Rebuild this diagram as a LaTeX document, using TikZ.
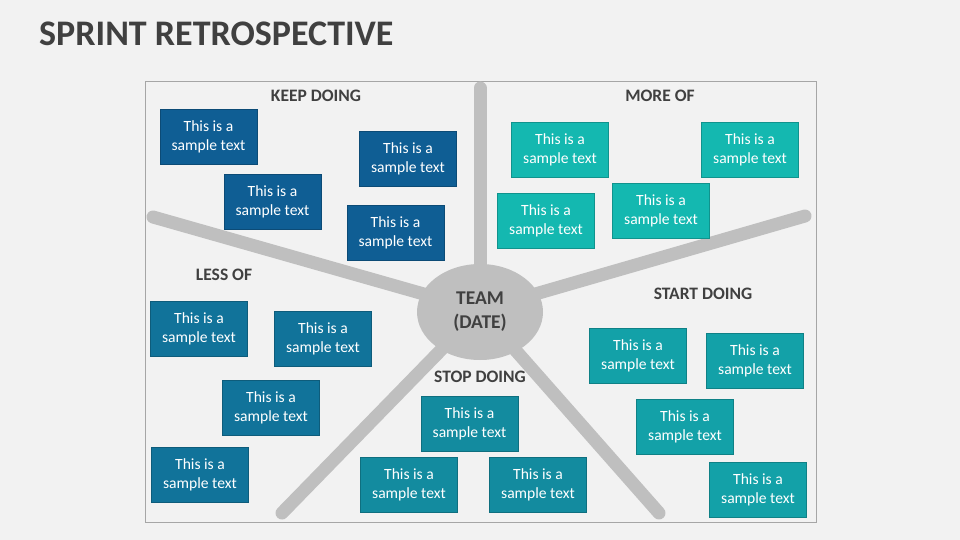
\documentclass[tikz,border=0pt]{standalone}
\usepackage{fontspec}
\setmainfont{Carlito}
\usetikzlibrary{shapes.geometric}
\begin{document}
\begin{tikzpicture}[x=1pt,y=-1pt,
  box/.style={draw=#1!80!black, line width=0.8pt, fill=#1, text=white, minimum width=97pt, minimum height=55pt, inner sep=0pt, align=center, font=\fontsize{15.6}{19}\selectfont},
  head/.style={text=txtgray, font=\bfseries\fontsize{17.5}{20}\selectfont},
  spoke/.style={draw=spokegray, line width=13pt, line cap=round}]
\definecolor{bg}{HTML}{F2F2F2}
\definecolor{txtgray}{HTML}{404040}
\definecolor{spokegray}{HTML}{BFBFBF}
\definecolor{framegray}{HTML}{A6A6A6}
\definecolor{ckeep}{HTML}{0F5E94}
\definecolor{cless}{HTML}{11739A}
\definecolor{cstop}{HTML}{138B9F}
\definecolor{cstart}{HTML}{13A1A8}
\definecolor{cmore}{HTML}{14B8B0}
\fill[bg] (0,0) rectangle (960,540);
\useasboundingbox (0,0) rectangle (960,540);
\node[anchor=west, inner sep=0pt, text=txtgray, font=\bfseries\fontsize{36}{40}\selectfont] (title) at (39,34) {SPRINT RETROSPECTIVE};
\draw[framegray, line width=0.8pt] (145,81) rectangle (816,522);
% spokes
\coordinate (c) at (480,310);
\coordinate (sTop) at (480,88);
\coordinate (sUL) at (153,217);
\coordinate (sUR) at (805,216);
\coordinate (sLL) at (282,513);
\coordinate (sLR) at (659,513);
\draw[spoke] (c) -- (sTop);
\draw[spoke] (c) -- (sUL);
\draw[spoke] (c) -- (sUR);
\draw[spoke] (c) -- (sLL);
\draw[spoke] (c) -- (sLR);
\node[ellipse, fill=spokegray, minimum width=126pt, minimum height=96pt, inner sep=0pt, align=center, text=txtgray, font=\bfseries\fontsize{19.5}{24}\selectfont] (team) at (480,312) {TEAM\\(DATE)};
% headings
\node[head] (hkeep) at (316,96) {KEEP DOING};
\node[head] (hmore) at (660,96) {MORE OF};
\node[head] (hless) at (224,275) {LESS OF};
\node[head] (hstart) at (703,294) {START DOING};
\node[head] (hstop) at (480,377) {STOP DOING};
% keep doing
\node[box=ckeep] (k1) at (208.5,136.5) {This is a\\sample text};
\node[box=ckeep] (k2) at (272.5,201.5) {This is a\\sample text};
\node[box=ckeep] (k3) at (408,159) {This is a\\sample text};
\node[box=ckeep] (k4) at (395.5,233) {This is a\\sample text};
% more of
\node[box=cmore] (m1) at (560,149.5) {This is a\\sample text};
\node[box=cmore] (m2) at (750,149.5) {This is a\\sample text};
\node[box=cmore] (m3) at (546,221) {This is a\\sample text};
\node[box=cmore] (m4) at (661,210.5) {This is a\\sample text};
% less of
\node[box=cless] (l1) at (199,328.5) {This is a\\sample text};
\node[box=cless] (l2) at (323,339) {This is a\\sample text};
\node[box=cless] (l3) at (271,408) {This is a\\sample text};
\node[box=cless] (l4) at (200,474.5) {This is a\\sample text};
% stop doing
\node[box=cstop] (p1) at (469.5,423.5) {This is a\\sample text};
\node[box=cstop] (p2) at (409,484.5) {This is a\\sample text};
\node[box=cstop] (p3) at (538,484.5) {This is a\\sample text};
% start doing
\node[box=cstart] (s1) at (638,355.5) {This is a\\sample text};
\node[box=cstart] (s2) at (755,360.5) {This is a\\sample text};
\node[box=cstart] (s3) at (685,426.5) {This is a\\sample text};
\node[box=cstart] (s4) at (758,489.5) {This is a\\sample text};
\end{tikzpicture}
\end{document}
